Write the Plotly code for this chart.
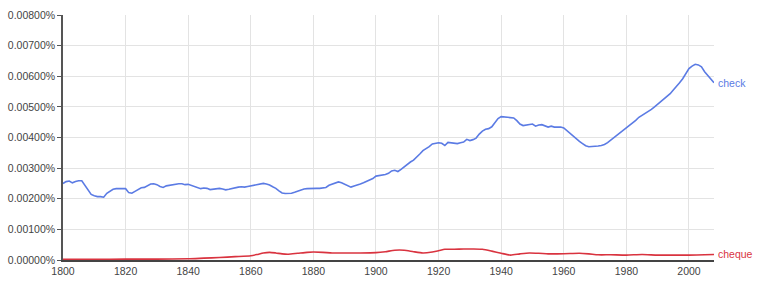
import plotly.graph_objects as go

# Values in thousandths of a percent (0.001%)
check_years = list(range(1800, 2009))
check_vals = [
    2.50, 2.56, 2.58, 2.52, 2.56, 2.59, 2.59, 2.45, 2.29, 2.14,
    2.10, 2.07, 2.07, 2.05, 2.18, 2.26, 2.31, 2.33, 2.33, 2.34,
    2.33, 2.20, 2.18, 2.24, 2.31, 2.36, 2.37, 2.42, 2.48, 2.49,
    2.46, 2.40, 2.37, 2.42, 2.44, 2.45, 2.46, 2.49, 2.49, 2.46,
    2.47, 2.44, 2.39, 2.36, 2.33, 2.35, 2.34, 2.30, 2.31, 2.32,
    2.34, 2.32, 2.29, 2.31, 2.34, 2.36, 2.38, 2.39, 2.38, 2.40,
    2.42, 2.43, 2.44, 2.48, 2.50, 2.48, 2.45, 2.39, 2.34, 2.26,
    2.19, 2.17, 2.17, 2.18, 2.21, 2.25, 2.30, 2.32, 2.33, 2.34,
    2.35, 2.34, 2.34, 2.35, 2.37, 2.44, 2.47, 2.50, 2.55, 2.52,
    2.48, 2.43, 2.38, 2.42, 2.44, 2.48, 2.52, 2.57, 2.61, 2.66,
    2.74, 2.76, 2.76, 2.79, 2.83, 2.91, 2.93, 2.89, 2.96, 3.05,
    3.13, 3.20, 3.26, 3.35, 3.46, 3.57, 3.63, 3.70, 3.79, 3.82,
    3.83, 3.81, 3.74, 3.84, 3.83, 3.82, 3.80, 3.83, 3.85, 3.94,
    3.90, 3.93, 3.98, 4.11, 4.21, 4.27, 4.29, 4.35, 4.48, 4.62,
    4.68, 4.67, 4.67, 4.65, 4.64, 4.55, 4.44, 4.39, 4.40, 4.42,
    4.44, 4.37, 4.41, 4.42, 4.39, 4.34, 4.37, 4.34, 4.34, 4.34,
    4.31, 4.22, 4.13, 4.03, 3.95, 3.87, 3.80, 3.73, 3.70, 3.70,
    3.71, 3.72, 3.74, 3.77, 3.83, 3.91, 3.98, 4.05, 4.16, 4.24,
    4.32, 4.40, 4.48, 4.56, 4.66, 4.72, 4.79, 4.86, 4.92, 5.00,
    5.09, 5.17, 5.24, 5.33, 5.43, 5.55, 5.66, 5.79, 5.92, 6.07,
    6.25, 6.33, 6.39, 6.37, 6.31, 6.15, 6.04, 5.92, 5.79,
]

cheque_years = [1800, 1810, 1820, 1830, 1840, 1845, 1850, 1855, 1860, 1862,
                1864, 1866, 1868, 1870, 1872, 1875, 1878, 1880, 1883, 1886,
                1890, 1895, 1900, 1903, 1906, 1909, 1912, 1915, 1918, 1920,
                1922, 1925, 1928, 1931, 1934, 1937, 1940, 1943, 1946, 1949,
                1952, 1955, 1958, 1962, 1965, 1968, 1971, 1975, 1980, 1985,
                1990, 1995, 2000, 2005, 2008]
cheque_vals = [0.02, 0.02, 0.03, 0.03, 0.04, 0.06, 0.08, 0.11, 0.14, 0.18,
               0.23, 0.25, 0.23, 0.20, 0.19, 0.22, 0.25, 0.26, 0.25, 0.23,
               0.23, 0.23, 0.24, 0.27, 0.32, 0.32, 0.27, 0.23, 0.26, 0.30,
               0.35, 0.35, 0.36, 0.36, 0.35, 0.29, 0.22, 0.16, 0.20, 0.23,
               0.22, 0.20, 0.20, 0.21, 0.22, 0.20, 0.17, 0.17, 0.16, 0.18,
               0.16, 0.16, 0.16, 0.17, 0.18]

y_ticks = [0, 1, 2, 3, 4, 5, 6, 7, 8]
x_ticks = [1800, 1820, 1840, 1860, 1880, 1900, 1920, 1940, 1960, 1980, 2000]

BLUE = "#5b7be4"
RED = "#d9333f"
U = 0.001  # percent per unit
FONT = "Liberation Sans, Arial"

fig = go.Figure()
fig.add_trace(go.Scatter(x=check_years, y=[v * U for v in check_vals], mode="lines",
                         line=dict(color=BLUE, width=1.6), name="check"))
fig.add_trace(go.Scatter(x=cheque_years, y=[v * U for v in cheque_vals], mode="lines",
                         line=dict(color=RED, width=1.6, shape="spline", smoothing=0.6),
                         name="cheque"))

for name, yrs, vals, col in [("check", check_years, check_vals, BLUE),
                             ("cheque", cheque_years, cheque_vals, RED)]:
    fig.add_annotation(x=yrs[-1], y=vals[-1] * U, text=name, showarrow=False,
                       xanchor="left", yanchor="middle", xshift=2,
                       font=dict(color=col, size=10.5, family=FONT))

fig.update_layout(
    width=768, height=282,
    margin=dict(l=63, r=54, t=15, b=22),
    paper_bgcolor="white", plot_bgcolor="white",
    showlegend=False,
    font=dict(family=FONT, size=10.5, color="#444"),
    xaxis=dict(range=[1800, 2008], tickvals=x_ticks, ticktext=[str(t) for t in x_ticks],
               showgrid=True, gridcolor="#e3e3e3", gridwidth=1, automargin=False,
               showline=True, linecolor="#444", linewidth=2,
               ticks="", zeroline=False, tickfont=dict(size=10.5, color="#444")),
    yaxis=dict(range=[0, 8 * U], tickvals=[t * U for t in y_ticks],
               ticktext=[f"{t * U:.5f}%" for t in y_ticks], automargin=False,
               showgrid=True, gridcolor="#e3e3e3", gridwidth=1,
               showline=True, linecolor="#555", linewidth=1.5,
               ticks="outside", ticklen=4, tickcolor="#555",
               zeroline=False, tickfont=dict(size=10.5, color="#444")),
)

fig.write_html("out.html")
